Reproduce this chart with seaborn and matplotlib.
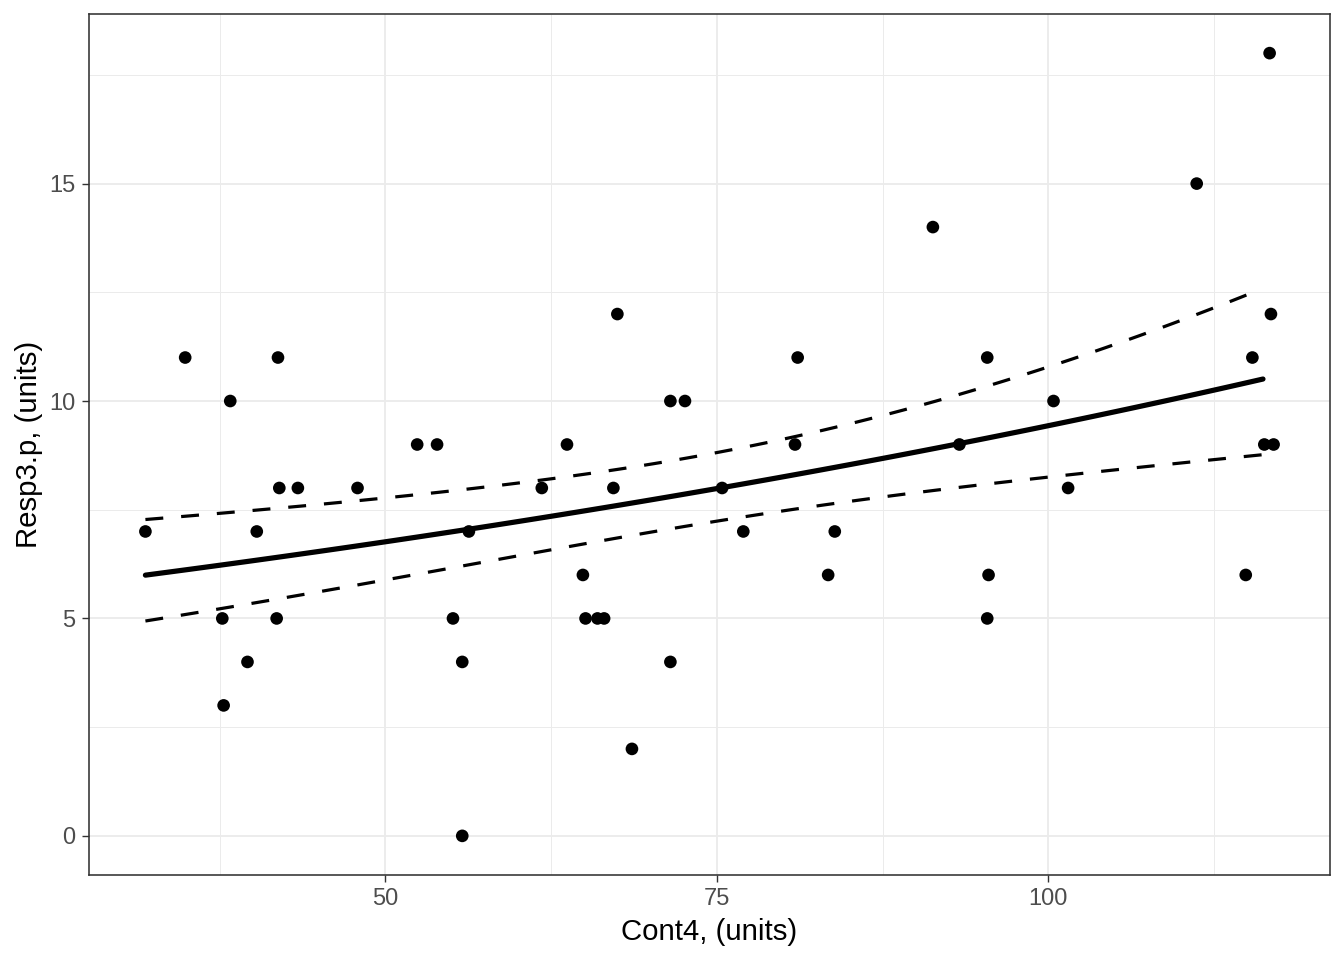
import matplotlib
matplotlib.use("Agg")
import matplotlib.pyplot as plt
import numpy as np
import pandas as pd
import seaborn as sns
from matplotlib.ticker import MultipleLocator

cont4 = [31.9, 34.9, 37.7, 37.8, 38.3, 39.6, 40.3, 41.9, 42.0, 41.8,
         43.4, 47.9, 52.4, 53.9, 55.1, 55.8, 55.8, 56.3, 61.8, 63.7,
         64.9, 65.1, 66.0, 66.5, 67.2, 67.5, 68.6, 71.5, 71.5, 72.6,
         75.4, 77.0, 80.9, 81.1, 83.4, 83.9, 91.3, 93.3, 95.4, 95.5,
         95.4, 100.4, 101.5, 111.2, 114.9, 115.4, 116.3, 116.7, 116.8, 117.0]
resp3 = [7, 11, 5, 3, 10, 4, 7, 11, 8, 5,
         8, 8, 9, 9, 5, 4, 0, 7, 8, 9,
         6, 5, 5, 5, 8, 12, 2, 10, 4, 10,
         8, 7, 9, 11, 6, 7, 14, 9, 11, 6,
         5, 10, 8, 15, 6, 11, 9, 18, 12, 9]

# range of the prediction grid used for the fitted curve
pred_start = 31.9
pred_end = 116.2

x_ticks = [50, 75, 100]
y_ticks = [0, 5, 10, 15]


def fit_poisson(x, y, n_iter=50):
    """Poisson GLM with log link, fitted by IRLS."""
    X = np.column_stack([np.ones_like(x), x])
    beta = np.array([np.log(y.mean()), 0.0])
    for _ in range(n_iter):
        eta = X @ beta
        mu = np.exp(eta)
        z = eta + (y - mu) / mu
        XtW = X.T * mu
        beta = np.linalg.solve(XtW @ X, XtW @ z)
    mu = np.exp(X @ beta)
    cov = np.linalg.inv((X.T * mu) @ X)
    return beta, cov


x = np.array(cont4, dtype=float)
y = np.array(resp3, dtype=float)
beta, cov = fit_poisson(x, y)

grid = np.linspace(pred_start, pred_end, 100)
Xg = np.column_stack([np.ones_like(grid), grid])
eta = Xg @ beta
se = np.sqrt(np.einsum("ij,jk,ik->i", Xg, cov, Xg))
pred = pd.DataFrame({
    "x": grid,
    "fit": np.exp(eta),
    "lwr": np.exp(eta - 1.96 * se),
    "upr": np.exp(eta + 1.96 * se),
})
points = pd.DataFrame({"Cont4": x, "Resp3": y})

sns.set_theme(style="white")
plt.rcParams["font.family"] = ["Liberation Sans", "DejaVu Sans"]

fig = plt.figure(figsize=(1344 / 144, 960 / 144), dpi=144)
ax = fig.add_axes([89 / 1344, 1 - 875 / 960, (1330 - 89) / 1344, (875 - 14) / 960])

sns.scatterplot(data=points, x="Cont4", y="Resp3", color="black", s=40,
                edgecolor="none", ax=ax, zorder=3)
sns.lineplot(data=pred, x="x", y="fit", color="black", linewidth=2.6, ax=ax, zorder=4)
for col in ["lwr", "upr"]:
    sns.lineplot(data=pred, x="x", y=col, color="black", linewidth=1.6,
                 ax=ax, zorder=4)
    ax.lines[-1].set_dashes((5.6, 5.6))

# ggplot-like 5% expansion
xr = x.max() - x.min()
ax.set_xlim(x.min() - 0.05 * xr, x.max() + 0.05 * xr)
yr = y.max() - y.min()
ax.set_ylim(y.min() - 0.05 * yr, y.max() + 0.05 * yr)

ax.set_xticks(x_ticks)
ax.set_yticks(y_ticks)
ax.xaxis.set_minor_locator(MultipleLocator(12.5))
ax.yaxis.set_minor_locator(MultipleLocator(2.5))
ax.grid(which="major", color="#EBEBEB", linewidth=0.95)
ax.grid(which="minor", color="#EBEBEB", linewidth=0.5)
ax.set_axisbelow(True)
ax.tick_params(which="major", bottom=True, left=True, length=3.7, width=0.7,
               color="#333333", labelsize=11.8, labelcolor="#4D4D4D", pad=3)
ax.tick_params(which="minor", length=0)
for sp in ax.spines.values():
    sp.set_color("#333333")
    sp.set_linewidth(0.8)

ax.set_xlabel("Cont4, (units)", fontsize=14.7, color="black", labelpad=4)
ax.set_ylabel("Resp3.p, (units)", fontsize=14.7, color="black", labelpad=3)

fig.savefig("out.png", dpi=144)
